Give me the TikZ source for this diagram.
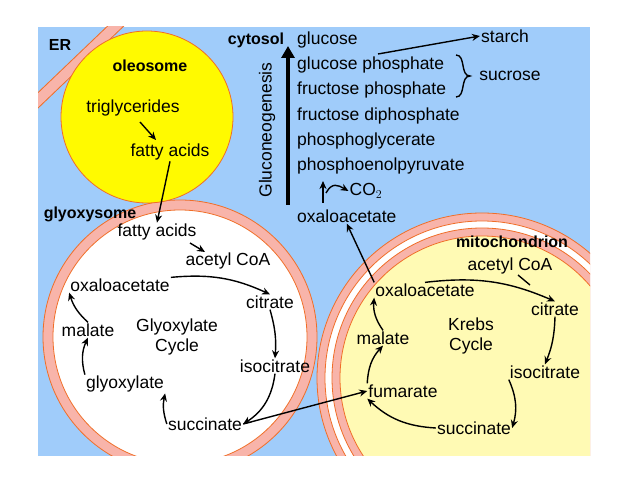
\documentclass[tikz,border=0pt]{standalone}
\usepackage{fontspec}
\setmainfont{Liberation Sans}
\usetikzlibrary{arrows.meta}
\definecolor{myBlue}{RGB}{160,204,250}
\definecolor{myPink}{RGB}{248,180,170}
\definecolor{myOrange}{RGB}{240,110,40}
\definecolor{myYellow}{RGB}{255,250,0}
\definecolor{myPale}{RGB}{255,250,180}

\tikzset{
  lbl/.style={font=\fontsize{17.5}{20}\selectfont, inner sep=1pt},
  ttl/.style={font=\fontsize{16}{19}\selectfont\bfseries, inner sep=1pt},
  arr/.style={-{Stealth[length=8pt,width=7pt]}, line width=1.4pt},
}

\begin{document}
\begin{tikzpicture}[x=1pt,y=-1pt]
		\useasboundingbox (0,0) rectangle (638,478);
		\fill[myBlue] (38,27) rectangle (590,456);
		\begin{scope}
			\clip (38,27) rectangle (590,456);
			% ER
			\draw[myOrange,line width=12pt] (30,108) -- (122,20);
			\draw[myPink,line width=10pt] (30,108) -- (122,20);
			% glyoxysome
			\fill[myPink,draw=myOrange,thick] (180,337) circle (137);
			\fill[white,draw=myOrange,thick] (180,337) circle (127);
			% mitochondrion
			\fill[myPink,draw=myOrange,thick] (482,378) circle (165);
			\fill[white,draw=myOrange,thick] (482,378) circle (157);
			\fill[myPink,draw=myOrange,thick] (482,378) circle (150);
			\fill[myPale,draw=myOrange,thick] (482,378) circle (142);
			% oleosome
			\fill[myYellow,draw=myOrange,thick] (147,117) circle (86);
		\end{scope}

		\node[ttl] at (60,45) {ER};
		\node[ttl] at (150,66) {oleosome};
		\node[lbl] (tg) at (133,108) {triglycerides};
		\node[lbl] (fa1) at (170,152) {fatty acids};
		\draw[arr] (140,122) -- (156,140);

		% glyoxysome
		\node[ttl] at (90,214) {glyoxysome};
		\node[lbl] (fa2) at (157,232) {fatty acids};
		\node[lbl] (gac) at (228,261) {acetyl CoA};
		\node[lbl] (gcit) at (270,302) {citrate};
		\node[lbl] (gisc) at (275,366) {isocitrate};
		\node[lbl] (gsuc) at (205,424) {succinate};
		\node[lbl] (ggly) at (125,384) {glyoxylate};
		\node[lbl] (gmal) at (88,330) {malate};
		\node[lbl] (goaa) at (120,285) {oxaloacetate};
		\node[lbl,align=center] at (177,337) {Glyoxylate\\Cycle};
		\draw[arr] (fa1.south) -- (fa2.north);
		\draw[arr] (190,243) -- (205,252);
		\draw[arr] (goaa.north east) to[bend left=15] (gcit.north);
		\draw[arr] (gcit.south) to[bend left=10] (gisc.north);
		\draw[arr] (gisc.south) to[bend left=25] (gsuc.east);
		\draw[arr] (gsuc.west) to[bend left=15] (ggly.south east);
		\draw[arr] (ggly.north west) to[bend left=20] (gmal.south);
		\draw[arr] (gmal.north) to[bend left=15] (goaa.south west);

		% cytosol
		\node[ttl] at (256,40) {cytosol};
		\node[lbl,anchor=west] (glc) at (296,40) {glucose};
		\node[lbl,anchor=west] (gp) at (296,65) {glucose phosphate};
		\node[lbl,anchor=west] (fp) at (296,90) {fructose phosphate};
		\node[lbl,anchor=west] (fdp) at (296,116) {fructose diphosphate};
		\node[lbl,anchor=west] (pg) at (296,141) {phosphoglycerate};
		\node[lbl,anchor=west] (pep) at (296,166) {phosphoenolpyruvate};
		\node[lbl] (co2) at (366,191) {CO$_2$};
		\node[lbl,anchor=west] (coaa) at (296,216) {oxaloacetate};
		\node[lbl] (starch) at (505,36) {starch};
		\node[lbl] (sucrose) at (510,76) {sucrose};
		\node[lbl,rotate=90] at (267,130) {Gluconeogenesis};
		\draw[line width=4pt,-{Triangle[length=12pt,width=13pt]}] (288,205) -- (288,46);
		\draw[arr] (378,54) -- (starch.west);
		\draw[line width=1.4pt] (456,55) .. controls (466,55) and (460,76) .. (470,76) .. controls (460,76) and (466,97) .. (456,97);
		\draw[arr] (323,203) -- (323,181);
		\draw[arr] (326,193) .. controls (332,182) and (338,185) .. (co2.west);

		% mitochondrion
		\node[ttl] at (512,242) {mitochondrion};
		\node[lbl] (mac) at (510,266) {acetyl CoA};
		\node[lbl] (moaa) at (425,290) {oxaloacetate};
		\node[lbl] (mcit) at (555,309) {citrate};
		\node[lbl,align=center] at (471,336) {Krebs\\Cycle};
		\node[lbl] (mmal) at (383,338) {malate};
		\node[lbl] (misc) at (545,372) {isocitrate};
		\node[lbl] (mfum) at (403,391) {fumarate};
		\node[lbl] (msuc) at (474,428) {succinate};
		\draw[arr] (moaa.north west) -- (coaa.south);
		\draw[arr] (moaa.north) to[bend left=15] (mcit.north);
		\draw[line width=1.4pt] (518,275) -- (530,285);
		\draw[arr] (mcit.south) to[bend left=10] (misc.north);
		\draw[arr] (misc.south west) to[bend left=20] (msuc.east);
		\draw[arr] (msuc.west) to[bend left=20] (mfum.south west);
		\draw[arr] (mfum.north west) to[bend left=20] (mmal.south);
		\draw[arr] (mmal.north) to[bend left=20] (moaa.south west);
		\draw[arr] (gsuc.east) -- (mfum.west);
	\end{tikzpicture}
\end{document}
